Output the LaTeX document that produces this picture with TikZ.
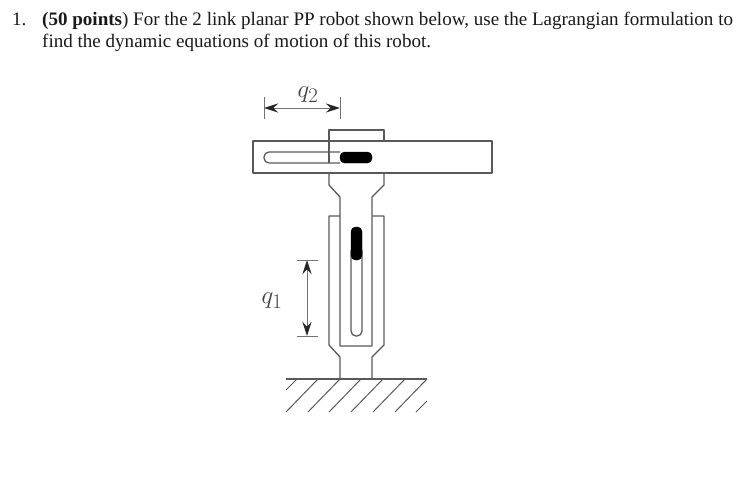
\documentclass[tikz,border=0pt]{standalone}
\usepackage{fontspec}
\setmainfont{Liberation Serif}
\usetikzlibrary{arrows.meta}
\tikzset{
    part/.style={draw=black!65, line width=1.3pt, line join=round},
    tick/.style={draw=black!55, line width=1pt},
    dim/.style={draw=black!55, line width=1pt, {Stealth[length=14pt,width=9pt,color=black!85]}-{Stealth[length=14pt,width=9pt,color=black!85]}},
    hatch/.style={draw=black!65, line width=1pt},
    slider/.style={draw=black, fill=black, rounded corners=4.5pt},
    prob/.style={anchor=base west, inner sep=0pt, text=black!90, font=\fontsize{19.05}{22}\selectfont},
    qlabel/.style={inner sep=0pt, text=black!75, font=\fontsize{28}{30}\selectfont}
}
\begin{document}
\begin{tikzpicture}[x=1pt,y=-1pt]
    \useasboundingbox (0,0) rectangle (750,488);

    \node[prob] (num) at (12,25.3) {1.};
    \node[prob] (line1) at (42,25.3) {\textbf{(50 points}) For the 2 link planar PP robot shown below, use the Lagrangian formulation to};
    \node[prob] (line2) at (42,47.3) {find the dynamic equations of motion of this robot.};

    % horizontal link
    \draw[part] (329,141) -- (329,130) -- (384,130) -- (384,141);
    \draw[part] (253,141) rectangle (492,173);
    \draw[part, rounded corners=5pt] (340,152) -- (264,152) -- (264,163) -- (340,163);
    \draw[part] (329,141) -- (329,163);
    \draw[slider] (340,152) rectangle (372,163);

    % vertical link
    \draw[part] (329,173) -- (329,185) -- (340,197) -- (340,346) -- (372,346) -- (372,197) -- (384,185) -- (384,173);
    \draw[part] (340,216) -- (329,216) -- (329,345) -- (340,357) -- (340,379);
    \draw[part] (372,216) -- (384,216) -- (384,345) -- (372,357) -- (372,379);
    \draw[part, rounded corners=5pt] (351,250) -- (351,336) -- (362,336) -- (362,250);
    \draw[slider] (351,227) rectangle (362,260);

    % ground
    \draw[part] (286,379) -- (427,379);
    \draw[hatch] (297,379) -- (286,390);
    \foreach \xtop in {318,340,361,383,405,427}
        \draw[hatch] (\xtop,379) -- ++(-32,33);
    \draw[hatch] (427,401) -- (416,412);

    % q1
    \coordinate (q1top) at (307,260);
    \coordinate (q1bot) at (307,336);
    \draw[tick] (297,260) -- (318,260);
    \draw[tick] (297,336) -- (318,336);
    \draw[dim] (q1top) -- (q1bot);
    \node[qlabel] (q1) at (272,301) {$q_1$};

    % q2
    \coordinate (q2left) at (264,108);
    \coordinate (q2right) at (340,108);
    \draw[tick] (264,97) -- (264,119);
    \draw[tick] (340,97) -- (340,119);
    \draw[dim] (q2left) -- (q2right);
    \node[qlabel] (q2) at (308,95) {$q_2$};
\end{tikzpicture}
\end{document}
